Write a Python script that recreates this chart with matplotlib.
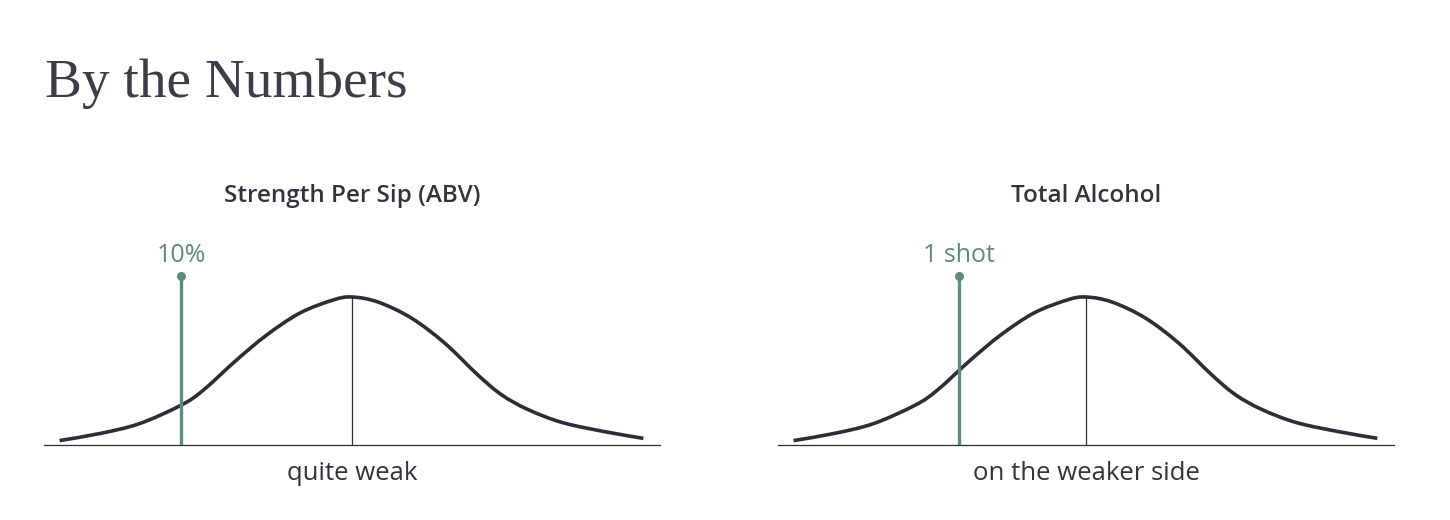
import matplotlib
matplotlib.use("Agg")
import matplotlib.pyplot as plt
from matplotlib.path import Path
from matplotlib.patches import PathPatch

# ---- data ----
page_title = "By the Numbers"
panel_titles = ["Strength Per Sip (ABV)", "Total Alcohol"]
panel_verdicts = ["quite weak", "on the weaker side"]
marker_labels = ["10%", "1 shot"]
marker_positions = [-1.64, -1.22]      # position on the distribution (std-dev units)
marker_height = 1.14                   # relative to curve peak
curve_x = [-2.81, -2.42, -2.04, -1.64, -1.43, -1.11, -0.82, -0.50, -0.18, 0.0,
           0.25, 0.57, 0.89, 1.21, 1.44, 1.69, 2.02, 2.43, 2.80]
curve_y = [0.030, 0.078, 0.145, 0.270, 0.370, 0.574, 0.743, 0.892, 0.980, 1.0,
           0.966, 0.858, 0.689, 0.473, 0.338, 0.240, 0.152, 0.090, 0.045]
peak_x = 0.0
peak_y = 1.0

# ---- styling ----
W, H = 1450, 520
DARK = "#2f2c38"
TEXT = "#34323c"
GREEN = "#5f8a80"


def smooth_path(xs, ys):
    """Cubic Bezier path through the given points (Catmull-Rom tangents)."""
    pts = list(zip(xs, ys))
    verts = [pts[0]]
    codes = [Path.MOVETO]
    n = len(pts)
    for k in range(n - 1):
        p0 = pts[k - 1] if k > 0 else pts[k]
        p1 = pts[k]
        p2 = pts[k + 1]
        p3 = pts[k + 2] if k + 2 < n else pts[k + 1]
        c1 = (p1[0] + (p2[0] - p0[0]) / 6, p1[1] + (p2[1] - p0[1]) / 6)
        c2 = (p2[0] - (p3[0] - p1[0]) / 6, p2[1] - (p3[1] - p1[1]) / 6)
        verts += [c1, c2, p2]
        codes += [Path.CURVE4, Path.CURVE4, Path.CURVE4]
    return Path(verts, codes)


fig = plt.figure(figsize=(W / 100, H / 100), dpi=100)
fig.patch.set_facecolor("white")

fig.text(45 / W, 1 - 84 / H, page_title, fontsize=39.8, family="Liberation Serif",
         color="#3d3c48", ha="left", va="center")

panel_left_px = [44, 778]
panel_width_px = 616
base_px = 445
ylim_top = 1.4
unit_px = 148

for i in range(2):
    left = panel_left_px[i] / W
    bottom = (H - base_px) / H
    height = ylim_top * unit_px / H
    ax = fig.add_axes([left, bottom, panel_width_px / W, height])
    ax.set_xlim(-2.96, 2.96)
    ax.set_ylim(0, ylim_top)
    for s in ["top", "right", "left"]:
        ax.spines[s].set_visible(False)
    ax.spines["bottom"].set_color(DARK)
    ax.spines["bottom"].set_linewidth(0.9)
    ax.set_xticks([])
    ax.set_yticks([])
    ax.patch.set_alpha(0)

    ax.add_patch(PathPatch(smooth_path(curve_x, curve_y), facecolor="none",
                           edgecolor=DARK, lw=2.6, capstyle="butt",
                           joinstyle="round", zorder=3))
    ax.plot([peak_x, peak_x], [0, peak_y], color=DARK, lw=0.9, zorder=2)

    mx = marker_positions[i]
    ax.plot([mx, mx], [0, marker_height], color=GREEN, lw=2.4, zorder=4,
            solid_capstyle="butt")
    ax.plot([mx], [marker_height], "o", color=GREEN, ms=5.5, zorder=5,
            clip_on=False)
    ax.annotate(marker_labels[i], (mx, marker_height), xytext=(0, 6),
                textcoords="offset points", ha="center", va="bottom",
                color=GREEN, fontsize=18, family="Open Sans", clip_on=False)

    cx = (panel_left_px[i] + panel_width_px / 2) / W
    fig.text(cx, 1 - 196 / H, panel_titles[i], ha="center", va="center",
             fontsize=17.5, family="Open Sans", fontweight="semibold", color=TEXT)
    fig.text(cx, 1 - 473 / H, panel_verdicts[i], ha="center", va="center",
             fontsize=18.5, family="Open Sans", color=TEXT)

fig.savefig("out.png", dpi=100, facecolor="white")
